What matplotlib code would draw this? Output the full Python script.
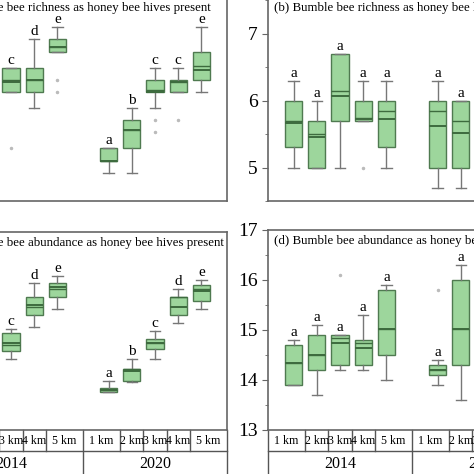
import matplotlib
matplotlib.use("Agg")
import matplotlib.pyplot as plt
from matplotlib.transforms import blended_transform_factory as btf

plt.rcParams['font.family'] = ['Liberation Serif', 'DejaVu Serif']

km_labels = ["1 km", "2 km", "3 km", "4 km", "5 km"] * 2
years = ["2014", "2020"]
positions = [1, 2, 3, 4, 5, 7.2, 8.2, 9.2, 10.2, 11.2]

# (whislo, q1, med, mean, q3, whishi), None for hidden
a_stats = [None, None,
           (5.4, 5.4, 5.9, 6.0, 6.6, 6.6), (4.6, 5.4, 6.0, 6.0, 6.6, 8.0), (7.4, 7.4, 7.6, 7.6, 8.0, 8.6),
           (1.4, 2.0, 2.0, 2.0, 2.6, 2.6), (1.4, 2.6, 3.5, 3.5, 4.0, 4.6), (4.6, 5.4, 5.4, 5.5, 6.0, 6.6),
           (5.4, 5.4, 5.9, 5.9, 6.0, 6.6), (5.4, 6.0, 6.5, 6.7, 7.4, 8.6)]
a_out = [[], [], [2.6], [], [6.0, 5.4], [], [], [4.0, 3.4], [4.0], []]
a_let = ["a", "b", "c", "d", "e", "a", "b", "c", "c", "e"]

c_stats = [None, None,
           (3.6, 4.0, 4.4, 4.3, 4.9, 5.1), (5.2, 5.8, 6.3, 6.2, 6.7, 7.4), (6.1, 6.7, 7.2, 7.1, 7.4, 7.8),
           (1.9, 1.9, 2.0, 2.0, 2.1, 2.5), (2.4, 2.5, 3.0, 3.1, 3.1, 3.6), (3.6, 4.1, 4.4, 4.4, 4.6, 5.0),
           (5.4, 5.8, 6.2, 6.7, 6.7, 7.1), (6.1, 6.5, 7.0, 7.1, 7.3, 7.6)]
c_out = [[]] * 10
c_let = ["a", "b", "c", "d", "e", "a", "b", "c", "d", "e"]

b_stats = [(5.0, 5.3, 5.67, 5.7, 6.0, 6.3), (5.0, 5.0, 5.45, 5.5, 5.7, 6.0),
           (5.0, 5.7, 6.07, 6.15, 6.7, 6.7), (5.7, 5.7, 5.72, 5.74, 6.0, 6.3),
           (5.0, 5.3, 5.72, 5.85, 6.0, 6.3), (4.7, 5.0, 5.62, 5.85, 6.0, 6.3),
           (4.7, 5.0, 5.52, 5.7, 6.0, 6.0)]
b_out = [[], [], [], [5.0], [], [], []]
b_let = ["a"] * 7

d_stats = [(13.9, 13.9, 14.35, 14.35, 14.7, 14.8), (13.7, 14.2, 14.5, 14.5, 14.9, 15.1),
           (14.2, 14.3, 14.75, 14.85, 14.9, 14.9), (14.2, 14.3, 14.65, 14.75, 14.8, 15.3),
           (14.0, 14.5, 15.02, 15.02, 15.8, 15.9), (13.9, 14.1, 14.2, 14.2, 14.3, 14.4),
           (13.6, 14.3, 15.02, 15.02, 16.0, 16.3)]
d_out = [[], [], [16.1], [], [], [15.8], []]
d_let = ["a"] * 7

W, H = 474, 474
fig = plt.figure(figsize=(W / 100, H / 100), dpi=100)

def ax_at(x0, top, bot):
    return fig.add_axes([x0 / W, 1 - bot / H, 288 / W, (bot - top) / H])

FACE = "#9dd69c"
EDGE = "#4f7a50"

def draw(ax, stats, outs, lets, ylim, title, table, letoff):
    bx = []
    pos = []
    for i, s in enumerate(stats):
        if s is None:
            continue
        lo, q1, med, mean, q3, hi = s
        bx.append(dict(whislo=lo, q1=q1, med=med, mean=mean, q3=q3, whishi=hi, fliers=outs[i]))
        pos.append(positions[i])
    ax.bxp(bx, positions=pos, widths=0.75, patch_artist=True, showmeans=True, meanline=True,
           boxprops=dict(facecolor=FACE, edgecolor=EDGE, linewidth=1),
           medianprops=dict(color="#3d6b3e", linewidth=1.4),
           meanprops=dict(color="#3d6b3e", linewidth=1.0, linestyle="-"),
           whiskerprops=dict(color="#777777", linewidth=1),
           capprops=dict(color="#777777", linewidth=1),
           flierprops=dict(marker="o", markersize=1.5, markerfacecolor="#bbbbbb",
                           markeredgecolor="#bbbbbb"),
           capwidths=0.45)
    for i, s in enumerate(stats):
        if s is None:
            continue
        ax.text(positions[i], s[5] + letoff, lets[i], ha="center", va="bottom", fontsize=11)
    ax.set_xlim(-0.1, 12.3)
    ax.set_ylim(*ylim)
    ax.set_xticks([])
    for sp in ax.spines.values():
        sp.set_color("#666666")
        sp.set_linewidth(1.2)
    ax.text(0.022, 0.975, title, transform=ax.transAxes, ha="left", va="top", fontsize=9.3)
    if table:
        tr = btf(ax.transData, ax.transAxes)
        rh = 21 / (ax.get_position().height * H)
        bounds = [-0.1, 1.5, 2.5, 3.5, 4.5, 6.1, 7.7, 8.7, 9.7, 10.7, 12.3]
        kw = dict(color="#555555", lw=1, transform=tr, clip_on=False)
        ax.plot([-0.1, 12.3], [-rh, -rh], **kw)
        ax.plot([-0.1, 12.3], [-2.2 * rh, -2.2 * rh], **kw)
        for b in bounds:
            ax.plot([b, b], [0, -rh if b not in (-0.1, 6.1, 12.3) else -2.2 * rh], **kw)
        for i, lab in enumerate(km_labels):
            ax.text((bounds[i] + bounds[i + 1]) / 2, -rh / 2, lab, transform=tr, ha="center",
                    va="center", fontsize=8.6)
        ax.text(3.0, -1.6 * rh, years[0], transform=tr, ha="center", va="center", fontsize=11.5)
        ax.text(9.2, -1.6 * rh, years[1], transform=tr, ha="center", va="center", fontsize=11.5)

ax_a = ax_at(-61, -3, 201)
draw(ax_a, a_stats, a_out, a_let, (0, 10.1), "(a) Bumble bee richness as honey bee hives present", False, 0.05)
ax_b = ax_at(268, -3, 201)
draw(ax_b, b_stats, b_out, b_let, (4.5, 7.55), "(b) Bumble bee richness as honey bee hives present", False, 0.01)
ax_b.set_yticks([5, 6, 7])
ax_b.set_yticks([4.5, 5.5, 6.5, 7.5], minor=True)
ax_c = ax_at(-61, 232, 430)
draw(ax_c, c_stats, c_out, c_let, (0, 10), "(c) Bumble bee abundance as honey bee hives present", True, 0.05)
ax_d = ax_at(268, 230, 430)
draw(ax_d, d_stats, d_out, d_let, (13, 17), "(d) Bumble bee abundance as honey bee hives present", True, 0.02)
ax_d.set_yticks([13, 14, 15, 16, 17])
ax_d.set_yticks([13.5, 14.5, 15.5, 16.5], minor=True)
for ax in (ax_b, ax_d):
    ax.tick_params(axis="y", labelsize=14, color="#666666", length=4)
    ax.tick_params(axis="y", which="minor", length=2.5, color="#666666")

fig.savefig("out.png", dpi=100)
